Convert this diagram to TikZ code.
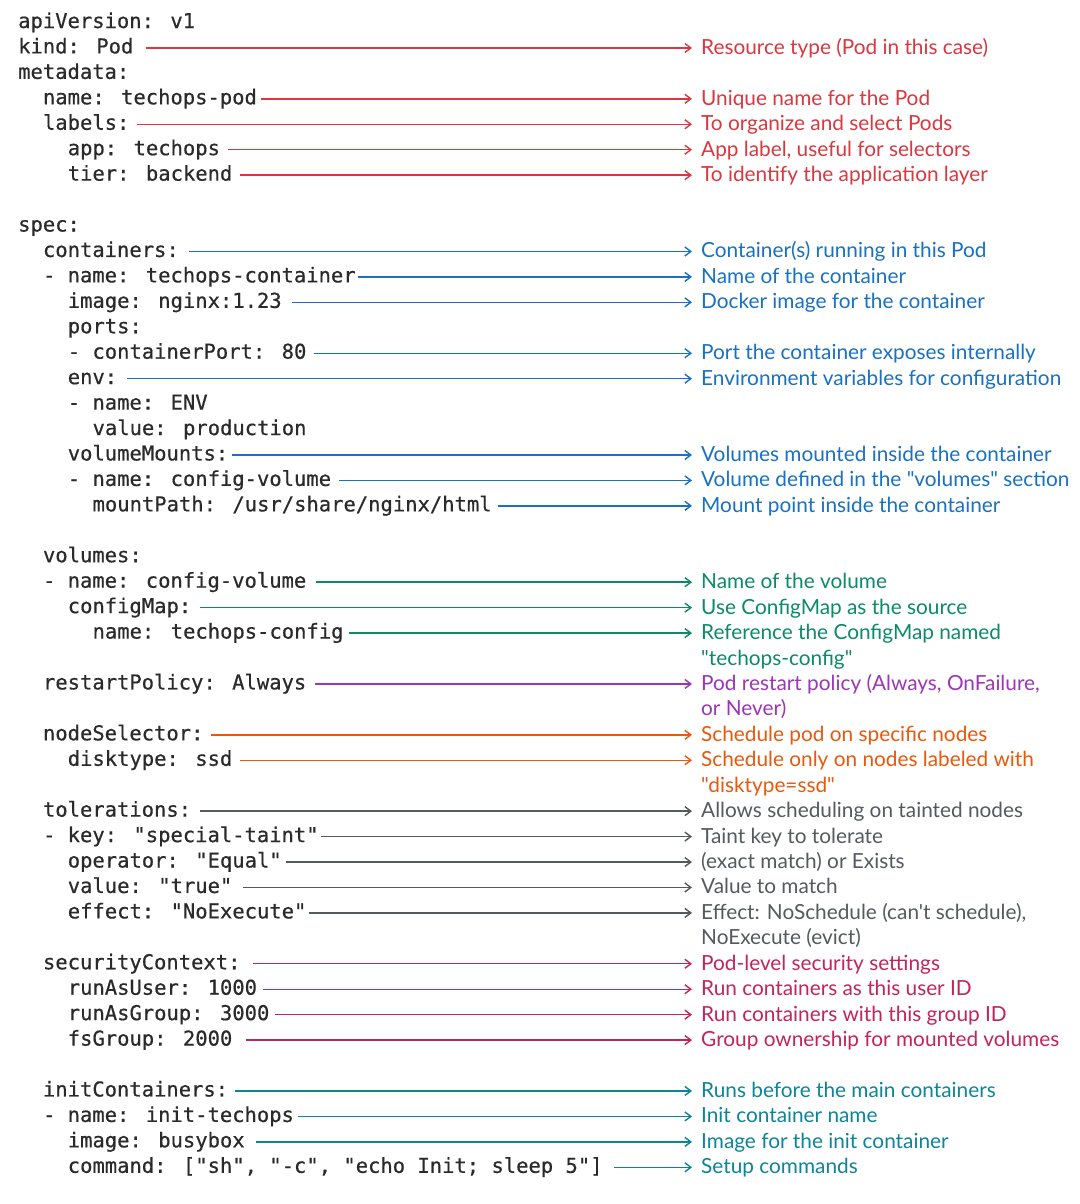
\documentclass[tikz,border=0pt]{standalone}
\usepackage{fontspec}
\newfontfamily\codefont{DejaVu Sans Mono}[FakeBold=0.5]
\newfontfamily\annfont{Lato}
\usetikzlibrary{arrows.meta,calc}
\definecolor{codecol}{HTML}{2A2A2A}
\definecolor{cred}{HTML}{D9383F}
\definecolor{cblue}{HTML}{1971C2}
\definecolor{cgreen}{HTML}{0C8A6A}
\definecolor{cpurple}{HTML}{9C36B5}
\definecolor{corange}{HTML}{E8590C}
\definecolor{cgray}{HTML}{555A60}
\definecolor{cpink}{HTML}{C2255C}
\definecolor{ccyan}{HTML}{0C8599}
\tikzset{
  code/.style={anchor=base west, inner sep=0pt, text=codecol,
    font=\codefont\fontsize{20.5bp}{25.44bp}\selectfont},
  ann/.style={anchor=base west, inner sep=0pt, align=left,
    font=\annfont\fontsize{20.8bp}{25.44bp}\selectfont},
  arr/.style={line width=1.4bp, -{Straight Barb[length=6bp,width=9bp,line width=1.4bp]}}
}
\newcommand{\cl}[3]{\node[code] (c#1) at ({18+24.8*#2},{28+25.44*#1}) {#3};}
% one-line annotation
\newcommand{\an}[4]{%
  \node[ann, text=#2] (a#1) at (701,{29+25.44*#1}) {#4};
  \draw[arr, draw=#2] ($(c#1.base east)+(#3,-5.5)$) -- ($(c#1.base east -| a#1.west)+(-9,-5.5)$);}
% two-line annotation (base anchor is the last line)
\newcommand{\antwo}[4]{%
  \node[ann, text=#2] (a#1) at (701,{29+25.44*(#1+1)}) {#4};
  \draw[arr, draw=#2] ($(c#1.base east)+(#3,-5.5)$) -- ($(c#1.base east -| a#1.west)+(-9,-5.5)$);}
\begin{document}
\begin{tikzpicture}[x=1bp,y=-1bp]
\useasboundingbox (0,0) rectangle (1080,1204);
\fill[white] (0,0) rectangle (1080,1204);
% code lines
\cl{0}{0}{apiVersion: v1}
\cl{1}{0}{kind: Pod}
\cl{2}{0}{metadata:}
\cl{3}{1}{name: techops-pod}
\cl{4}{1}{labels:}
\cl{5}{2}{app: techops}
\cl{6}{2}{tier: backend}
\cl{8}{0}{spec:}
\cl{9}{1}{containers:}
\cl{10}{1}{- name: techops-container}
\cl{11}{2}{image: nginx:1.23}
\cl{12}{2}{ports:}
\cl{13}{2}{- containerPort: 80}
\cl{14}{2}{env:}
\cl{15}{2}{- name: ENV}
\cl{16}{3}{value: production}
\cl{17}{2}{volumeMounts:}
\cl{18}{2}{- name: config-volume}
\cl{19}{3}{mountPath: /usr/share/nginx/html}
\cl{21}{1}{volumes:}
\cl{22}{1}{- name: config-volume}
\cl{23}{2}{configMap:}
\cl{24}{3}{name: techops-config}
\cl{26}{1}{restartPolicy: Always}
\cl{28}{1}{nodeSelector:}
\cl{29}{2}{disktype: ssd}
\cl{31}{1}{tolerations:}
\cl{32}{1}{- key: "special-taint"}
\cl{33}{2}{operator: "Equal"}
\cl{34}{2}{value: "true"}
\cl{35}{2}{effect: "NoExecute"}
\cl{37}{1}{securityContext:}
\cl{38}{2}{runAsUser: 1000}
\cl{39}{2}{runAsGroup: 3000}
\cl{40}{2}{fsGroup: 2000}
\cl{42}{1}{initContainers:}
\cl{43}{1}{- name: init-techops}
\cl{44}{2}{image: busybox}
\cl{45}{2}{command: ["sh", "-c", "echo Init; sleep 5"]}
% annotations
\an{1}{cred}{12}{Resource type (Pod in this case)}
\an{3}{cred}{4}{Unique name for the Pod}
\an{4}{cred}{7}{To organize and select Pods}
\an{5}{cred}{8}{App label, useful for selectors}
\an{6}{cred}{7}{To identify the application layer}
\an{9}{cblue}{10}{Container(s) running in this Pod}
\an{10}{cblue}{2}{Name of the container}
\an{11}{cblue}{10}{Docker image for the container}
\an{13}{cblue}{7}{Port the container exposes internally}
\an{14}{cblue}{10}{Environment variables for configuration}
\an{17}{cblue}{4}{Volumes mounted inside the container}
\an{18}{cblue}{8}{Volume defined in the "volumes" section}
\an{19}{cblue}{6}{Mount point inside the container}
\an{22}{cgreen}{9}{Name of the volume}
\an{23}{cgreen}{9}{Use ConfigMap as the source}
\antwo{24}{cgreen}{5}{Reference the ConfigMap named\\"techops-config"}
\antwo{26}{cpurple}{8}{Pod restart policy (Always, OnFailure,\\or Never)}
\an{28}{corange}{7}{Schedule pod on specific nodes}
\antwo{29}{corange}{7}{Schedule only on nodes labeled with\\"disktype=ssd"}
\an{31}{cgray}{9}{Allows scheduling on tainted nodes}
\an{32}{cgray}{2}{Taint key to tolerate}
\an{33}{cgray}{4}{(exact match) or Exists}
\an{34}{cgray}{10}{Value to match}
\antwo{35}{cgray}{2}{Effect: NoSchedule (can't schedule),\\NoExecute (evict)}
\an{37}{cpink}{12}{Pod-level security settings}
\an{38}{cpink}{6}{Run containers as this user ID}
\an{39}{cpink}{5}{Run containers with this group ID}
\an{40}{cpink}{13}{Group ownership for mounted volumes}
\an{42}{ccyan}{7}{Runs before the main containers}
\an{43}{ccyan}{4}{Init container name}
\an{44}{ccyan}{11}{Image for the init container}
\an{45}{ccyan}{11}{Setup commands}
\end{tikzpicture}
\end{document}
